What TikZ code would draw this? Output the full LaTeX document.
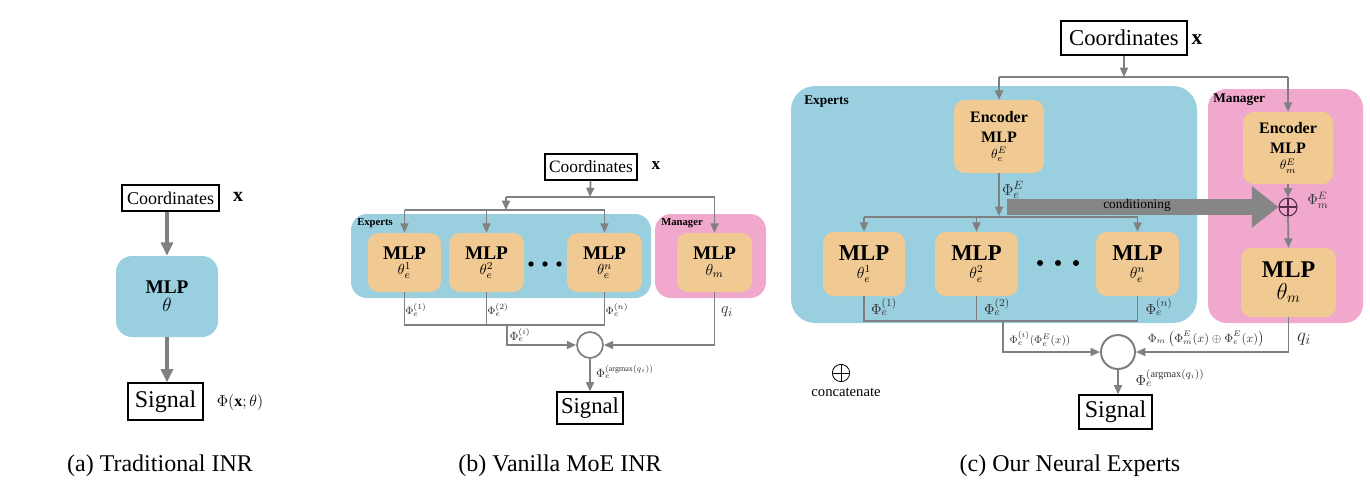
\documentclass[tikz,border=0pt]{standalone}
\usepackage{fontspec}
\setmainfont{Liberation Serif}
\usetikzlibrary{arrows.meta,fit,calc}
\definecolor{eblue}{HTML}{99CFDE}
\definecolor{mpink}{HTML}{F0A8CC}
\definecolor{morange}{HTML}{F0CA92}
\definecolor{ag}{HTML}{808080}
\definecolor{opc}{HTML}{5A3050}
\newcommand{\fsz}[1]{\fontsize{#1}{#1}\selectfont}
\begin{document}
\begin{tikzpicture}[x=0.75pt,y=-0.75pt,
  wbox/.style={draw=black,line width=0.9pt,inner sep=0pt,fill=white},
  grp/.style={rounded corners=12pt,inner sep=0pt,draw=none},
  mlp/.style={fill=morange,rounded corners=8pt,inner sep=0pt,align=center,draw=none},
  tx/.style={align=center,inner sep=0pt},
  ln/.style={draw=ag,line width=1.3pt},
  arr/.style={ln,-{Triangle[length=7pt,width=6pt]}},
  arrb/.style={draw=ag,line width=2.3pt,-{Triangle[length=10pt,width=9pt]}},
  lab/.style={inner sep=1pt,text=black!80},
  dot/.style={circle,fill=black,inner sep=0pt,minimum size=4pt}]
\useasboundingbox (0,0) rectangle (1370,487);
% ---------------- (a)
\node[wbox,fit={(122,185)(219,211)}] (ca) {};
\node[tx,font=\fsz{13.5}] (cat) at (ca.center) {Coordinates};
\node[font=\fsz{15}] (xa) at (238,197) {$\mathbf{x}$};
\node[grp,fill=eblue,fit={(116,256)(218,337)}] (ma) {};
\node[tx,font=\fsz{14.5}] (mat) at (ma.center) {\textbf{MLP}\\[-1pt]$\theta$};
\node[wbox,fit={(128,383)(203,420)}] (sa) {};
\node[tx,font=\fsz{18}] (sat) at (sa.center) {Signal};
\node[font=\fsz{12}] (pa) at (240,402) {$\Phi(\mathbf{x};\theta)$};
\draw[arrb] (ca.south-|ma.north) -- (ma.north);
\draw[arrb] (ma.south) -- (sa.north-|ma.south);
% ---------------- (b)
\node[wbox,fit={(545,154)(637,180)}] (cb) {};
\node[tx,font=\fsz{13}] (cbt) at (cb.center) {Coordinates};
\node[font=\fsz{13}] (xb) at (656,166) {$\mathbf{x}$};
\node[grp,fill=eblue,fit={(351,214)(651,298)}] (eb) {};
\node[grp,fill=mpink,fit={(655,214)(766,298)}] (mgb) {};
\node[anchor=north west,font=\fsz{8}\bfseries,inner sep=0pt] (ebl) at (357,218) {Experts};
\node[anchor=north west,font=\fsz{8}\bfseries,inner sep=0pt] (mbl) at (661,218) {Manager};
\node[mlp,fit={(368,233)(441,292)}] (b1) {};
\node[mlp,fit={(449,233)(524,292)}] (b2) {};
\node[mlp,fit={(567,233)(642,292)}] (bn) {};
\node[mlp,fit={(677,233)(752,292)}] (bm) {};
\node[tx,font=\fsz{14.5}] (b1t) at (b1.center) {\textbf{MLP}\\[-3pt]{\fsz{11}$\theta_e^1$}};
\node[tx,font=\fsz{14.5}] (b2t) at (b2.center) {\textbf{MLP}\\[-3pt]{\fsz{11}$\theta_e^2$}};
\node[tx,font=\fsz{14.5}] (bnt) at (bn.center) {\textbf{MLP}\\[-3pt]{\fsz{11}$\theta_e^n$}};
\node[tx,font=\fsz{14.5}] (bmt) at (bm.center) {\textbf{MLP}\\[-3pt]{\fsz{12}$\theta_m$}};
\node[dot] (bd1) at (531,264) {}; \node[dot] (bd2) at (545,264) {}; \node[dot] (bd3) at (559,264) {};
\coordinate (bt) at (590,197);
\coordinate (btl) at (506,197);
\coordinate (btr) at (714.5,197);
\coordinate (bs) at (506,210);
\coordinate (bsl) at (404.5,210);
\coordinate (bsr) at (604.5,210);
\draw[arr] (cb) -- (bt);
\draw[ln] (btl) -- (btr);
\draw[arr] (btl) -- (bs);
\draw[ln] (bsl) -- (bsr);
\draw[arr] (bsl) -- (b1.north);
\draw[arr] (b2.north|-bsl) -- (b2.north);
\draw[arr] (bsr) -- (bn.north);
\draw[arr] (btr) -- (bm.north);
\node[circle,draw=ag,line width=1.3pt,minimum size=19.5pt,inner sep=0pt,fill=white] (cirb) at (590,345) {};
\coordinate (bo1) at (404.5,325);
\coordinate (bon) at (604.5,325);
\coordinate (boi) at (507,325);
\draw[ln] (b1.south) -- (bo1) -- (bon) -- (bn.south);
\draw[ln] (b2.south) -- (b2.south|-bo1);
\draw[arr] (boi) |- (cirb.west);
\draw[arr] (bm.south) |- (cirb.east);
\node[wbox,fit={(557,392)(623,424)}] (sb) {};
\node[tx,font=\fsz{17}] (sbt) at (sb.center) {Signal};
\draw[arr] (cirb) -- (sb);
\node[lab,font=\fsz{8}] at (416,310) {$\Phi_e^{(1)}$};
\node[lab,font=\fsz{8}] at (498,310) {$\Phi_e^{(2)}$};
\node[lab,font=\fsz{8}] at (617,310) {$\Phi_e^{(n)}$};
\node[lab,font=\fsz{9}] at (520,335) {$\Phi_e^{(i)}$};
\node[lab,font=\fsz{13}] at (727,312) {$q_i$};
\node[lab,font=\fsz{9}] at (625,372) {$\Phi_e^{(\mathrm{argmax}(q_i))}$};
% ---------------- (c)
\node[wbox,fit={(1061,21)(1187,55)}] (cc) {};
\node[tx,font=\fsz{17}] (cct) at (cc.center) {Coordinates};
\node[font=\fsz{16}] (xc) at (1197,40) {$\mathbf{x}$};
\node[grp,fill=eblue,rounded corners=18pt,fit={(791,86)(1197,323)}] (ec) {};
\node[grp,fill=mpink,rounded corners=14pt,fit={(1208,89)(1363,323)}] (mgc) {};
\node[anchor=north west,font=\fsz{10}\bfseries,inner sep=0pt] (ecl) at (804,95) {Experts};
\node[anchor=north west,font=\fsz{10}\bfseries,inner sep=0pt] (mcl) at (1213,93) {Manager};
\node[mlp,fit={(954,100)(1044,173)}] (enc) {};
\node[tx,font=\fsz{12}\bfseries] (enct) at (enc.center) {Encoder\\[3pt]MLP\\[0pt]{\fsz{10}\mdseries$\theta_e^E$}};
\node[mlp,fit={(1243,112)(1333,184)}] (menc) {};
\node[tx,font=\fsz{12}\bfseries] (menct) at (menc.center) {Encoder\\[3pt]MLP\\[0pt]{\fsz{10}\mdseries$\theta_m^E$}};
\node[mlp,fit={(823,232)(905,296)}] (c1) {};
\node[mlp,fit={(935,232)(1018,296)}] (c2) {};
\node[mlp,fit={(1096,232)(1179,296)}] (cn) {};
\node[mlp,fit={(1241,248)(1336,317)}] (cm) {};
\node[tx,font=\fsz{17}\bfseries] (c1t) at (c1.center) {MLP\\[-3pt]{\fsz{12}\mdseries$\theta_e^1$}};
\node[tx,font=\fsz{17}\bfseries] (c2t) at (c2.center) {MLP\\[-3pt]{\fsz{12}\mdseries$\theta_e^2$}};
\node[tx,font=\fsz{17}\bfseries] (cnt) at (cn.center) {MLP\\[-3pt]{\fsz{12}\mdseries$\theta_e^n$}};
\node[tx,font=\fsz{18}\bfseries] (cmt) at (cm.center) {MLP\\[-2pt]{\fsz{16}\mdseries$\theta_m$}};
\node[dot,minimum size=4.5pt] (cd1) at (1040,263) {}; \node[dot,minimum size=4.5pt] (cd2) at (1058,263) {}; \node[dot,minimum size=4.5pt] (cd3) at (1076,263) {};
\coordinate (ct) at (1124,77);
\coordinate (ctl) at (999,77);
\coordinate (ctr) at (1288,77);
\draw[arr] (cc) -- (ct);
\draw[ln] (ctl) -- (ctr);
\draw[arr] (ctl) -- (enc.north);
\draw[arr] (ctr) -- (menc.north);
\coordinate (cs) at (999,216);
\coordinate (csl) at (864,217);
\coordinate (csr) at (1137.5,217);
\draw[arr] (enc.south) -- (cs);
\draw[ln] (csl) -- (csr);
\draw[arr] (csl) -- (c1.north);
\draw[arr] (c2.north|-csl) -- (c2.north);
\draw[arr] (csr) -- (cn.north);
\node[circle,draw=opc,line width=0.8pt,minimum size=13.5pt,inner sep=0pt,
  path picture={\draw[opc,line width=0.8pt] (path picture bounding box.north)--(path picture bounding box.south) (path picture bounding box.west)--(path picture bounding box.east);}] (opl) at (1288,207) {};
\coordinate (cond) at (1007,207);
\draw[draw=ag!95,line width=12pt,-{Triangle[length=20pt,width=30pt]}] (cond) -- (opl.west);
\node[font=\fsz{10}] (condl) at (1137,205) {conditioning};
\draw[arr] (menc.south) -- (opl.north);
\draw[arr] (opl.south) -- (cm.north);
\node[circle,draw=ag,line width=1.5pt,minimum size=25.5pt,inner sep=0pt,fill=white] (circ) at (1118,352) {};
\coordinate (co1) at (864,321);
\coordinate (con) at (1137.5,321);
\coordinate (coi) at (1003,321);
\draw[ln] (c1.south) -- (co1) -- (con) -- (cn.south);
\draw[ln] (c2.south) -- (c2.south|-co1);
\draw[arr] (coi) |- (circ.west);
\draw[arr] (cm.south) |- (circ.east);
\node[wbox,fit={(1079,395)(1152,429)}] (sc) {};
\node[tx,font=\fsz{18}] (sct) at (sc.center) {Signal};
\draw[arr] (circ) -- (sc.north-|circ);
\node[lab,font=\fsz{11}] at (884,307) {$\Phi_e^{(1)}$};
\node[lab,font=\fsz{11}] at (997,307) {$\Phi_e^{(2)}$};
\node[lab,font=\fsz{11}] at (1159,307) {$\Phi_e^{(n)}$};
\node[lab,font=\fsz{8}] at (1040,339) {$\Phi_e^{(i)}(\Phi_e^E(x))$};
\node[lab,font=\fsz{9}] at (1206,339) {$\Phi_m\left(\Phi_m^E(x)\oplus\Phi_e^E(x)\right)$};
\node[lab,font=\fsz{15}] at (1304,339) {$q_i$};
\node[lab,font=\fsz{11}] at (1170,378) {$\Phi_e^{(\mathrm{argmax}(q_i))}$};
\node[lab,font=\fsz{11}] at (1318,200) {$\Phi_m^E$};
\node[lab,font=\fsz{13}] at (1013,190) {$\Phi_e^E$};
\node[circle,draw=black,line width=0.6pt,minimum size=13pt,inner sep=0pt,
  path picture={\draw[line width=0.6pt] (path picture bounding box.north)--(path picture bounding box.south) (path picture bounding box.west)--(path picture bounding box.east);}] (conc) at (841,373) {};
\node[font=\fsz{11}] (concl) at (846,392) {concatenate};
% captions
\node[font=\fsz{18}] (capa) at (160,466) {(a) Traditional INR};
\node[font=\fsz{18}] (capb) at (560,466) {(b) Vanilla MoE INR};
\node[font=\fsz{18}] (capc) at (1070,466) {(c) Our Neural Experts};
\end{tikzpicture}
\end{document}
